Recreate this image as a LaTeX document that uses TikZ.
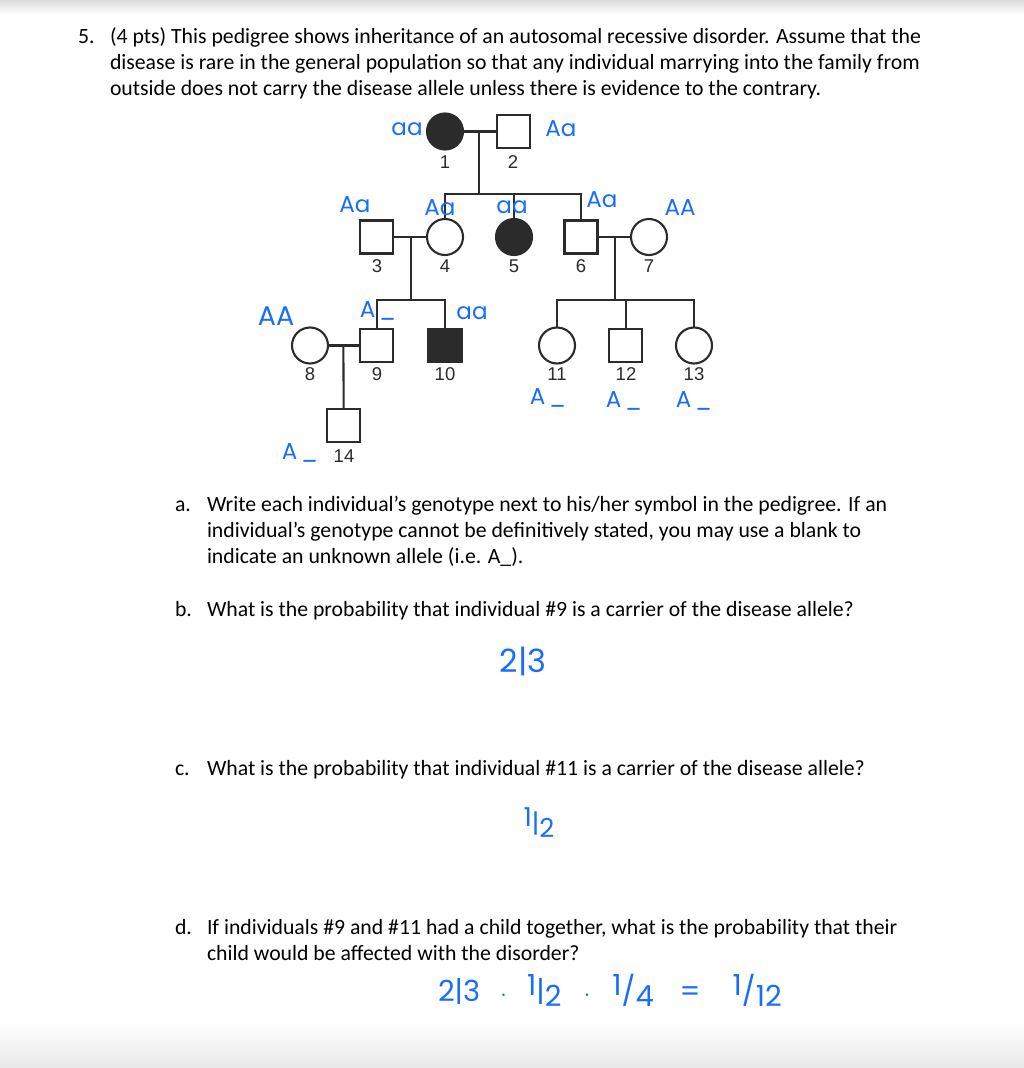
\documentclass[tikz,border=0pt]{standalone}
\usepackage{fontspec}
\setmainfont{Carlito}
\newfontfamily\handfont{Poppins}
\newfontfamily\numfont{Liberation Sans}
\usetikzlibrary{positioning,calc}
\definecolor{ink}{RGB}{43,43,43}
\definecolor{pen}{RGB}{24,110,250}
\newcommand{\up}[1]{\raisebox{6pt}{#1}}
\newcommand{\dn}[1]{\raisebox{-5pt}{#1}}

\begin{document}
\begin{tikzpicture}[
    x=1pt, y=-1pt,
    every node/.style={inner sep=0pt, outer sep=0pt},
    male/.style={rectangle, draw=ink, line width=2.1pt, fill=white, minimum size=33pt},
    female/.style={circle, draw=ink, line width=2.1pt, fill=white, minimum size=36pt},
    affected/.style={fill=ink},
    pedline/.style={draw=ink, line width=2.1pt},
    idnum/.style={font=\numfont\fontsize{18.5}{18.5}\selectfont, text=ink},
    geno/.style={font=\handfont\fontsize{23}{23}\selectfont, text=pen},
    qtext/.style={anchor=base west, font=\fontsize{21.75}{26}\selectfont, text=black}
  ]
  \useasboundingbox (0,0) rectangle (1024,1068);
  \shade[top color=black!14, bottom color=white] (0,0) rectangle (1024,14);
  \shade[top color=white, bottom color=black!9] (0,1022) rectangle (1024,1068);

  % question text
  \node[qtext] (q5) at (78,43) {5.};
  \node[qtext] (q5a) at (110,43) {(4 pts) This pedigree shows inheritance of an autosomal recessive disorder. Assume that the};
  \node[qtext] (q5b) at (110,69) {disease is rare in the general population so that any individual marrying into the family from};
  \node[qtext] (q5c) at (110,95) {outside does not carry the disease allele unless there is evidence to the contrary.};

  % pedigree
  \node[female, affected] (i1) at (445,131.5) {};
  \node[male] (i2) at (513.5,131.5) {};
  \node[male] (i3) at (376.7,237) {};
  \node[female] (i4) at (445,237) {};
  \node[female, affected] (i5) at (514,237) {};
  \node[male] (i6) at (581,237) {};
  \node[female] (i7) at (649,237) {};
  \node[female] (i8) at (310,345.5) {};
  \node[male] (i9) at (376.7,345.5) {};
  \node[male, affected] (i10) at (445,345.5) {};
  \node[female] (i11) at (557,345.5) {};
  \node[male] (i12) at (625.8,345.5) {};
  \node[female] (i13) at (694,345.5) {};
  \node[male] (i14) at (343.7,425.5) {};

  \foreach \n/\xx/\yy in {1/445/162, 2/513/162, 3/377/266, 4/445/266, 5/514/266,
      6/581/266, 7/649/266, 8/310/374, 9/377/374, 10/445/374, 11/557/374,
      12/626/374, 13/694/374, 14/344/456}{
    \node[idnum] (n\n) at (\xx,\yy) {\n};
  }

  % matings and sibships
  \coordinate (m12) at ($(i1)!0.5!(i2)$);
  \coordinate (m34) at ($(i3)!0.5!(i4)$);
  \coordinate (m67) at ($(i6)!0.5!(i7)$);
  \coordinate (m89) at ($(i8)!0.5!(i9)$);
  \coordinate (s1) at (m12 |- 0,194);
  \coordinate (s2) at (m34 |- 0,300);
  \coordinate (s3) at (m67 |- 0,300);

  \draw[pedline] (i1) -- (i2);
  \draw[pedline] (i3) -- (i4);
  \draw[pedline] (i6) -- (i7);
  \draw[pedline] (i8) -- (i9);
  \draw[pedline] (m12) -- (s1);
  \draw[pedline] (i4.north) -- (i4.north |- s1) -- (i6.north |- s1) -- (i6.north);
  \draw[pedline] (i5.north) -- (i5.north |- s1);
  \draw[pedline] (m34) -- (s2);
  \draw[pedline] (i9.north) -- (i9.north |- s2) -- (i10.north |- s2) -- (i10.north);
  \draw[pedline] (m67) -- (s3);
  \draw[pedline] (i11.north) -- (i11.north |- s3) -- (i13.north |- s3) -- (i13.north);
  \draw[pedline] (i12.north) -- (i12.north |- s3);
  \draw[pedline] (m89) -- (i14.north);

  % handwritten genotypes
  \node[geno] (g1) at (407,129) {aa};
  \node[geno] (g2) at (561,129) {Aa};
  \node[geno] (g3) at (355,205) {Aa};
  \node[geno] (g4) at (440,208) {Aa};
  \node[geno] (g5) at (512,207) {aa};
  \node[geno] (g6) at (602,200) {Aa};
  \node[geno] (g7) at (680,208) {AA};
  \node[geno, font=\handfont\fontsize{27}{27}\selectfont] (g8) at (276,316) {AA};
  \node[geno] (g9) at (378,311) {A\,\_};
  \node[geno] (g10) at (472,313) {aa};
  \node[geno] (g11) at (548,398) {A\,\_};
  \node[geno] (g12) at (624,401) {A\,\_};
  \node[geno] (g13) at (694,401) {A\,\_};
  \node[geno] (g14) at (300,453) {A\,\_};

  % parts a to d
  \node[qtext] (qa) at (175,511) {a.};
  \node[qtext] (qa1) at (207,511) {Write each individual’s genotype next to his/her symbol in the pedigree. If an};
  \node[qtext] (qa2) at (207,537) {individual’s genotype cannot be definitively stated, you may use a blank to};
  \node[qtext] (qa3) at (207,563) {indicate an unknown allele (i.e. A\_).};
  \node[qtext] (qb) at (175,616) {b.};
  \node[qtext] (qb1) at (207,616) {What is the probability that individual \#9 is a carrier of the disease allele?};
  \node[qtext] (qc) at (175,775) {c.};
  \node[qtext] (qc1) at (207,775) {What is the probability that individual \#11 is a carrier of the disease allele?};
  \node[qtext] (qd) at (175,934) {d.};
  \node[qtext] (qd1) at (207,934) {If individuals \#9 and \#11 had a child together, what is the probability that their};
  \node[qtext] (qd2) at (207,960) {child would be affected with the disorder?};

  % handwritten answers
  \node[geno, font=\handfont\fontsize{32}{32}\selectfont] (ab) at (523,661) {2|3};
  \node[geno, font=\handfont\fontsize{26}{26}\selectfont] (ac) at (539,823) {\up{1}|\dn{2}};
  \node[geno, font=\handfont\fontsize{29}{29}\selectfont, anchor=west] (ad) at (438,990)
    {2|3\hspace{20pt}$\cdot$\hspace{20pt}\up{1}|\dn{2}\hspace{22pt}$\cdot$\hspace{22pt}\up{1}/\dn{4}\hspace{26pt}=\hspace{32pt}\up{1}/\dn{12}};
\end{tikzpicture}
\end{document}
